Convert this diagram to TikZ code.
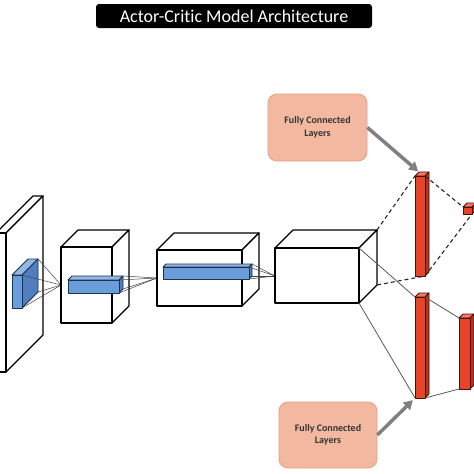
\documentclass[tikz,border=0pt]{standalone}
\usepackage{fontspec}
\setmainfont{Carlito}[Ligatures={NoCommon}]
\usetikzlibrary{positioning,arrows.meta}

\definecolor{fcfill}{RGB}{243,185,160}
\definecolor{fcline}{RGB}{228,160,130}
\definecolor{bluefront}{RGB}{106,158,218}
\definecolor{bluetop}{RGB}{146,184,230}
\definecolor{blueside}{RGB}{80,126,190}
\definecolor{blueline}{RGB}{30,50,80}
\definecolor{redfront}{RGB}{232,68,42}
\definecolor{redtop}{RGB}{240,122,96}
\definecolor{redside}{RGB}{180,52,30}
\definecolor{redline}{RGB}{70,18,8}

\newcommand{\cuboid}[7]{%
  \begin{scope}[shift={(#3,#4)}]
    \coordinate (#1-ftl) at (0,0);
    \coordinate (#1-ftr) at (#5,0);
    \coordinate (#1-fbr) at (#5,#6);
    \coordinate (#1-fbl) at (0,#6);
    \coordinate (#1-btl) at (#7,-#7);
    \coordinate (#1-btr) at (#5+#7,-#7);
    \coordinate (#1-bbr) at (#5+#7,#6-#7);
    \filldraw [#2 top] (#1-ftl) -- (#1-btl) -- (#1-btr) -- (#1-ftr) -- cycle;
    \filldraw [#2 side] (#1-ftr) -- (#1-btr) -- (#1-bbr) -- (#1-fbr) -- cycle;
    \filldraw [#2 front] (#1-ftl) rectangle (#1-fbr);
  \end{scope}}

\begin{document}
\begin{tikzpicture}[
    x=1pt,y=-1pt,
    plain top/.style={draw=black,fill=white,line width=1.2pt,line join=round},
    plain side/.style={plain top},
    plain front/.style={plain top},
    blue top/.style={draw=blueline,fill=bluetop,line width=0.9pt,line join=round},
    blue side/.style={blue top,fill=blueside},
    blue front/.style={blue top,fill=bluefront},
    red top/.style={draw=redline,fill=redtop,line width=0.8pt,line join=round},
    red side/.style={red top,fill=redside},
    red front/.style={red top,fill=redfront},
    cone/.style={draw=black!75,line width=0.5pt},
    dashlink/.style={draw=black!85,line width=1.1pt,dash pattern=on 4pt off 3pt},
    link/.style={draw=black!65,line width=0.8pt},
    fcbox/.style={%
      draw=fcline,
      fill=fcfill,
      line width=0.8pt,
      rounded corners=9pt,
      minimum width=99pt,
      minimum height=67pt,
      align=center,
      font=\fontsize{10}{12.5}\selectfont\bfseries,
      text=black!80,
    },
    fcarrow/.style={draw=black!50,line width=3.5pt,-{Triangle[length=9pt,width=10pt]}},
  ]
    \useasboundingbox (0,0) rectangle (474,474);

    \node [fill=black,rounded corners=3pt,minimum width=276pt,minimum height=24pt,
      text=white,font=\fontsize{18}{20}\selectfont] (title) at (234,16) {Actor-Critic Model Architecture};

    \cuboid{slabA}{plain}{-4}{233}{10}{139}{37}
    \cuboid{convA}{blue}{12}{275}{10}{33}{16}
    \coordinate (apexA) at (61,285);
    \draw [cone] (convA-btr) -- (apexA);
    \draw [cone] (convA-ftr) -- (apexA);
    \draw [cone] (convA-bbr) -- (apexA);
    \draw [cone] (convA-fbr) -- (apexA);

    \cuboid{slabB}{plain}{61}{247}{51}{76}{17}
    \cuboid{convB}{blue}{68}{280}{51}{13}{4}
    \coordinate (apexB) at (157,278);
    \draw [cone] (convB-btr) -- (apexB);
    \draw [cone] (convB-ftr) -- (apexB);
    \draw [cone] (convB-bbr) -- (apexB);
    \draw [cone] (convB-fbr) -- (apexB);

    \cuboid{slabC}{plain}{157}{250}{85}{56}{17}
    \cuboid{convC}{blue}{163}{267}{86}{12}{3}
    \coordinate (apexC) at (275,276);
    \draw [cone] (convC-btr) -- (apexC);
    \draw [cone] (convC-ftr) -- (apexC);
    \draw [cone] (convC-bbr) -- (apexC);
    \draw [cone] (convC-fbr) -- (apexC);

    \cuboid{slabD}{plain}{275}{248}{84}{55}{18}

    \cuboid{actorA}{red}{415}{176}{10}{100}{4}
    \cuboid{actorB}{red}{463}{207}{9}{7}{4}
    \cuboid{criticA}{red}{415}{297}{10}{101}{4}
    \cuboid{criticB}{red}{459}{318}{11}{71}{4}

    \draw [dashlink] (slabD-btr) -- (actorA-ftl);
    \draw [dashlink] (slabD-bbr) -- (actorA-fbr);
    \draw [dashlink] (actorA-ftr) -- (actorB-ftl);
    \draw [dashlink] (actorA-fbr) -- (actorB-fbr);

    \draw [link] (slabD-ftr) -- (criticA-ftl);
    \draw [link] (slabD-fbr) -- (criticA-fbl);
    \draw [link] (criticA-ftr) -- (criticB-ftl);
    \draw [link] (criticA-fbr) -- (criticB-fbl);

    \node [fcbox] (fcTop) at (317.5,127.5) {Fully Connected\\Layers};
    \node [fcbox,minimum width=98pt,minimum height=66pt] (fcBot) at (328,435) {Fully Connected\\Layers};

    \draw [fcarrow,shorten >=1pt] (fcTop.east) -- (actorA-btl);
    \draw [fcarrow,shorten >=3pt] (fcBot.east) -- (criticA-fbl);
\end{tikzpicture}
\end{document}
